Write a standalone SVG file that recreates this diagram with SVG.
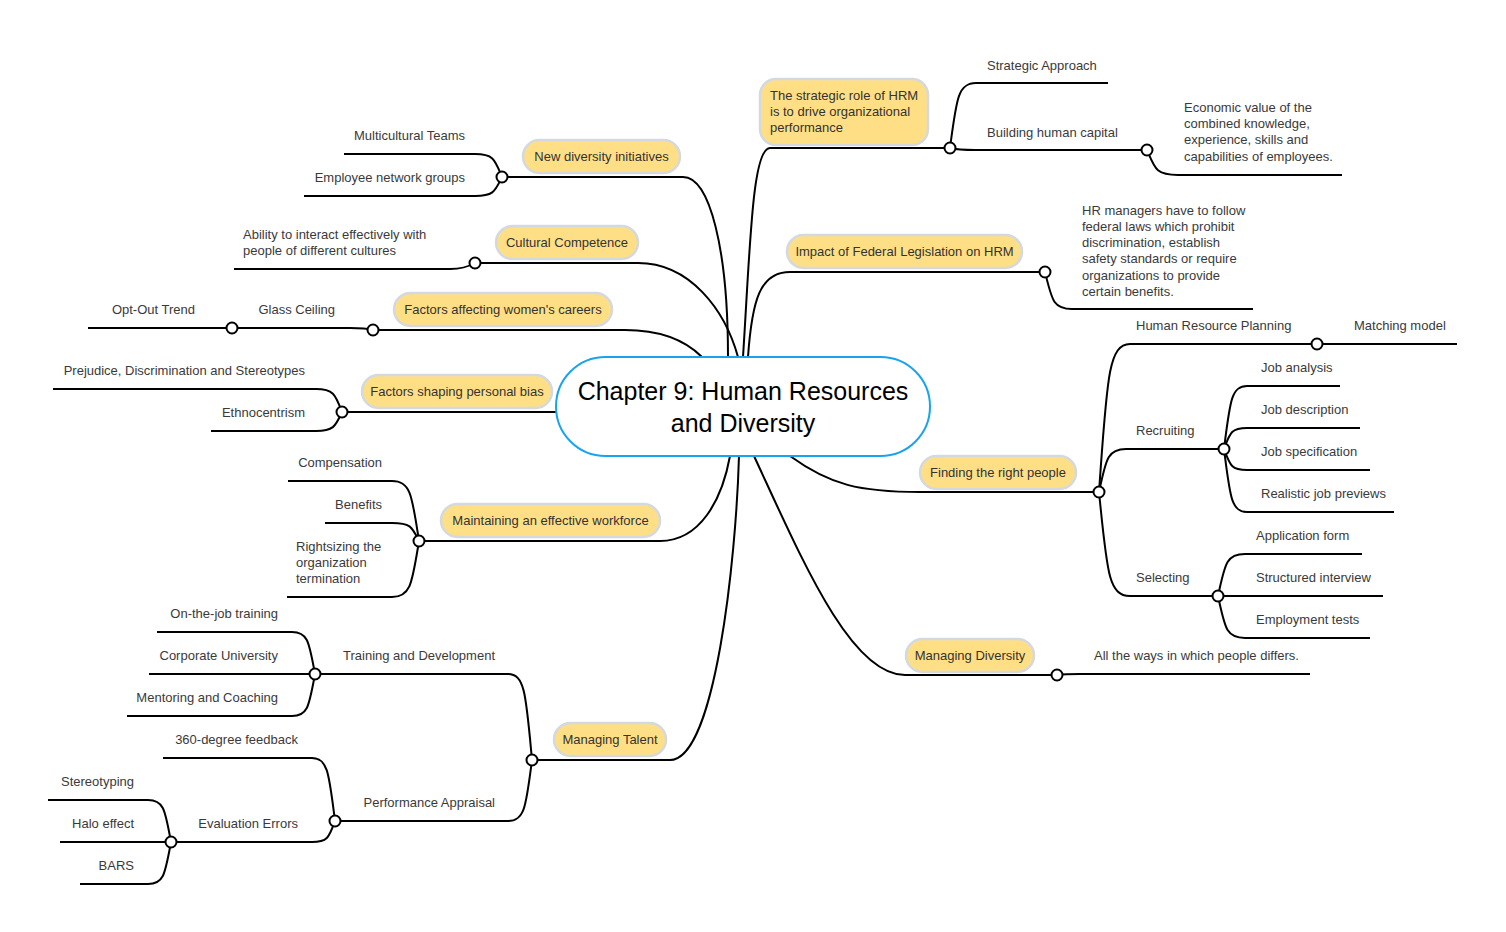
<svg xmlns="http://www.w3.org/2000/svg" width="1506" height="932" viewBox="0 0 1506 932">
<style>
.ln{fill:none;stroke:#000;stroke-width:2}
.dot{fill:#fff;stroke:#000;stroke-width:2}
.pill{fill:#ffdf85;stroke:#d3d9de;stroke-width:2.5}
.pt{font-family:"Liberation Sans",Arial,sans-serif;font-size:13px;fill:#333}
.lb{font-family:"Liberation Sans",Arial,sans-serif;font-size:13px;fill:#3a3a3a}
.e{text-anchor:end}
.m{text-anchor:middle}
.ct{font-family:"Liberation Sans",Arial,sans-serif;font-size:25px;fill:#000;text-anchor:middle}
</style>
<rect width="1506" height="932" fill="#fff"/>
<g id="connectors">
<path class="ln" d="M743,357 C750,250 752,148 770,148 L950,148"/>
<path class="ln" d="M748,357 C752,300 760,272 790,272 L1045,272"/>
<path class="ln" d="M790,456 C830,485 860,492 920,492 L1099,492"/>
<path class="ln" d="M754,456 C801,557 850,675 905,675 L1057,675"/>
<path class="ln" d="M502,177 L683,177 C710,177 728,250 728,357"/>
<path class="ln" d="M475,263 L638,263 C690,263 725,310 738,357"/>
<path class="ln" d="M373,330 L625,330 C660,330 685,340 702,357"/>
<path class="ln" d="M342,412 L556,412"/>
<path class="ln" d="M419,541 L660,541 C700,541 722,500 730,456"/>
<path class="ln" d="M532,760 L670,760 C715,760 736,560 739,456"/>
<path class="ln" d="M950,148 C956.5,99 957.8,83 976,83 L1108,83"/>
<path class="ln" d="M950,148 C958,150 965,150 975,150 L1147,150"/>
<path class="ln" d="M1147,150 C1155,169 1156,175 1178,175 L1342,175"/>
<path class="ln" d="M1045,272 C1052,300 1053,309 1072,309 L1253,309"/>
<path class="ln" d="M1099,492 C1107,381 1108,344 1130,344 L1457,344"/>
<path class="ln" d="M1099,492 C1106,460 1107,449 1126,449 L1224,449"/>
<path class="ln" d="M1099,492 C1107,570 1108,596 1130,596 L1218,596"/>
<path class="ln" d="M1224,449 C1230,402 1231,386 1247,386 L1340,386"/>
<path class="ln" d="M1224,449 C1230,433 1231,428 1247,428 L1360,428"/>
<path class="ln" d="M1224,449 C1230,465 1231,470 1247,470 L1370,470"/>
<path class="ln" d="M1224,449 C1230,496 1231,512 1247,512 L1394,512"/>
<path class="ln" d="M1218,596 C1225,564 1226,554 1245,554 L1362,554"/>
<path class="ln" d="M1218,596 L1383,596"/>
<path class="ln" d="M1218,596 C1225,628 1226,638 1245,638 L1370,638"/>
<path class="ln" d="M1057,675 C1065,674 1070,674 1080,674 L1310,674"/>
<path class="ln" d="M502,177 C495,160 494,154 475,154 L344,154"/>
<path class="ln" d="M502,177 C495,191 494,196 475,196 L304,196"/>
<path class="ln" d="M475,263 C468,267 462,269 450,269 L234,269"/>
<path class="ln" d="M373,330 C366,328 360,328 350,328 L88,328"/>
<path class="ln" d="M342,412 C335.5,395 334,389 316,389 L53,389"/>
<path class="ln" d="M342,412 C335.5,426 334,431 316,431 L211,431"/>
<path class="ln" d="M419,541 C412,496 411,481 392,481 L288,481"/>
<path class="ln" d="M419,541 C412,527 411,523 392,523 L325,523"/>
<path class="ln" d="M419,541 C412,583 411,597 392,597 L287,597"/>
<path class="ln" d="M532,760 C526,695 525,674 508,674 L315,674"/>
<path class="ln" d="M532,760 C526,806 525,821 508,821 L335,821"/>
<path class="ln" d="M315,674 C309,642 308,632 292,632 L157,632"/>
<path class="ln" d="M315,674 L149,674"/>
<path class="ln" d="M315,674 C309,706 308,716 292,716 L127,716"/>
<path class="ln" d="M335,821 C329,774 328,758 312,758 L163,758"/>
<path class="ln" d="M335,821 C329,837 328,842 312,842 L171,842"/>
<path class="ln" d="M171,842 C165,810 164,800 148,800 L48,800"/>
<path class="ln" d="M171,842 L60,842"/>
<path class="ln" d="M171,842 C165,874 164,884 148,884 L80,884"/>
<circle class="dot" cx="950" cy="148" r="5.5"/>
<circle class="dot" cx="1147" cy="150" r="5.5"/>
<circle class="dot" cx="1045" cy="272" r="5.5"/>
<circle class="dot" cx="1099" cy="492" r="5.5"/>
<circle class="dot" cx="1317" cy="344" r="5.5"/>
<circle class="dot" cx="1224" cy="449" r="5.5"/>
<circle class="dot" cx="1218" cy="596" r="5.5"/>
<circle class="dot" cx="1057" cy="675" r="5.5"/>
<circle class="dot" cx="502" cy="177" r="5.5"/>
<circle class="dot" cx="475" cy="263" r="5.5"/>
<circle class="dot" cx="373" cy="330" r="5.5"/>
<circle class="dot" cx="232" cy="328" r="5.5"/>
<circle class="dot" cx="342" cy="412" r="5.5"/>
<circle class="dot" cx="419" cy="541" r="5.5"/>
<circle class="dot" cx="532" cy="760" r="5.5"/>
<circle class="dot" cx="315" cy="674" r="5.5"/>
<circle class="dot" cx="335" cy="821" r="5.5"/>
<circle class="dot" cx="171" cy="842" r="5.5"/>
</g>
<g id="central">
<rect x="556" y="357" width="374" height="99" rx="49.5" fill="#fff" stroke="#18a4ec" stroke-width="2"/>
<text class="ct" x="743" y="400">Chapter 9: Human Resources</text>
<text class="ct" x="743" y="432">and Diversity</text>
</g>
<g id="strategic-role">
<rect class="pill" x="760" y="79" width="168" height="66" rx="16"/>
<text class="pt" x="770" y="100">The strategic role of HRM</text>
<text class="pt" x="770" y="116">is to drive organizational</text>
<text class="pt" x="770" y="132">performance</text>
</g>
<g id="strategic-approach"><text class="lb" x="987" y="70">Strategic Approach</text></g>
<g id="human-capital"><text class="lb" x="987" y="137">Building human capital</text></g>
<g id="economic-value">
<text class="lb" x="1184" y="112">Economic value of the</text>
<text class="lb" x="1184" y="128">combined knowledge,</text>
<text class="lb" x="1184" y="144">experience, skills and</text>
<text class="lb" x="1184" y="161">capabilities of employees.</text>
</g>
<g id="federal">
<rect class="pill" x="787" y="235" width="235" height="33" rx="16.5"/>
<text class="pt m" x="904.5" y="256">Impact of Federal Legislation on HRM</text>
</g>
<g id="hr-managers">
<text class="lb" x="1082" y="215">HR managers have to follow</text>
<text class="lb" x="1082" y="231">federal laws which prohibit</text>
<text class="lb" x="1082" y="247">discrimination, establish</text>
<text class="lb" x="1082" y="263">safety standards or require</text>
<text class="lb" x="1082" y="280">organizations to provide</text>
<text class="lb" x="1082" y="296">certain benefits.</text>
</g>
<g id="finding">
<rect class="pill" x="920" y="456" width="156" height="33" rx="16.5"/>
<text class="pt m" x="998" y="477">Finding the right people</text>
</g>
<g id="hrp"><text class="lb" x="1136" y="330">Human Resource Planning</text></g>
<g id="matching"><text class="lb" x="1354" y="330">Matching model</text></g>
<g id="recruiting"><text class="lb" x="1136" y="435">Recruiting</text></g>
<g id="job-analysis"><text class="lb" x="1261" y="372">Job analysis</text></g>
<g id="job-description"><text class="lb" x="1261" y="414">Job description</text></g>
<g id="job-specification"><text class="lb" x="1261" y="456">Job specification</text></g>
<g id="realistic"><text class="lb" x="1261" y="498">Realistic job previews</text></g>
<g id="selecting"><text class="lb" x="1136" y="582">Selecting</text></g>
<g id="application"><text class="lb" x="1256" y="540">Application form</text></g>
<g id="structured"><text class="lb" x="1256" y="582">Structured interview</text></g>
<g id="employment-tests"><text class="lb" x="1256" y="624">Employment tests</text></g>
<g id="managing-diversity">
<rect class="pill" x="906" y="639" width="128" height="33" rx="16.5"/>
<text class="pt m" x="970" y="660">Managing Diversity</text>
</g>
<g id="all-ways"><text class="lb" x="1094" y="660">All the ways in which people differs.</text></g>
<g id="new-diversity">
<rect class="pill" x="523" y="140" width="157" height="33" rx="16.5"/>
<text class="pt m" x="601.5" y="161">New diversity initiatives</text>
</g>
<g id="multicultural"><text class="lb e" x="465" y="140">Multicultural Teams</text></g>
<g id="employee-network"><text class="lb e" x="465" y="182">Employee network groups</text></g>
<g id="cultural">
<rect class="pill" x="496" y="226" width="142" height="33" rx="16.5"/>
<text class="pt m" x="567" y="247">Cultural Competence</text>
</g>
<g id="ability">
<text class="lb" x="243" y="239">Ability to interact effectively with</text>
<text class="lb" x="243" y="255">people of different cultures</text>
</g>
<g id="women">
<rect class="pill" x="394" y="293" width="218" height="33" rx="16.5"/>
<text class="pt m" x="503" y="314">Factors affecting women's careers</text>
</g>
<g id="glass-ceiling"><text class="lb e" x="335" y="314">Glass Ceiling</text></g>
<g id="opt-out"><text class="lb e" x="195" y="314">Opt-Out Trend</text></g>
<g id="bias">
<rect class="pill" x="362" y="375" width="190" height="33" rx="16.5"/>
<text class="pt m" x="457" y="396">Factors shaping personal bias</text>
</g>
<g id="prejudice"><text class="lb e" x="305" y="375">Prejudice, Discrimination and Stereotypes</text></g>
<g id="ethnocentrism"><text class="lb e" x="305" y="417">Ethnocentrism</text></g>
<g id="maintaining">
<rect class="pill" x="441" y="504" width="219" height="33" rx="16.5"/>
<text class="pt m" x="550.5" y="525">Maintaining an effective workforce</text>
</g>
<g id="compensation"><text class="lb e" x="382" y="467">Compensation</text></g>
<g id="benefits"><text class="lb e" x="382" y="509">Benefits</text></g>
<g id="rightsizing">
<text class="lb" x="296" y="551">Rightsizing the</text>
<text class="lb" x="296" y="567">organization</text>
<text class="lb" x="296" y="583">termination</text>
</g>
<g id="talent">
<rect class="pill" x="554" y="723" width="112" height="33" rx="16.5"/>
<text class="pt m" x="610" y="744">Managing Talent</text>
</g>
<g id="training"><text class="lb e" x="495" y="660">Training and Development</text></g>
<g id="ojt"><text class="lb e" x="278" y="618">On-the-job training</text></g>
<g id="corporate"><text class="lb e" x="278" y="660">Corporate University</text></g>
<g id="mentoring"><text class="lb e" x="278" y="702">Mentoring and Coaching</text></g>
<g id="performance"><text class="lb e" x="495" y="807">Performance Appraisal</text></g>
<g id="feedback"><text class="lb e" x="298" y="744">360-degree feedback</text></g>
<g id="evaluation"><text class="lb e" x="298" y="828">Evaluation Errors</text></g>
<g id="stereotyping"><text class="lb e" x="134" y="786">Stereotyping</text></g>
<g id="halo"><text class="lb e" x="134" y="828">Halo effect</text></g>
<g id="bars"><text class="lb e" x="134" y="870">BARS</text></g>
</svg>
